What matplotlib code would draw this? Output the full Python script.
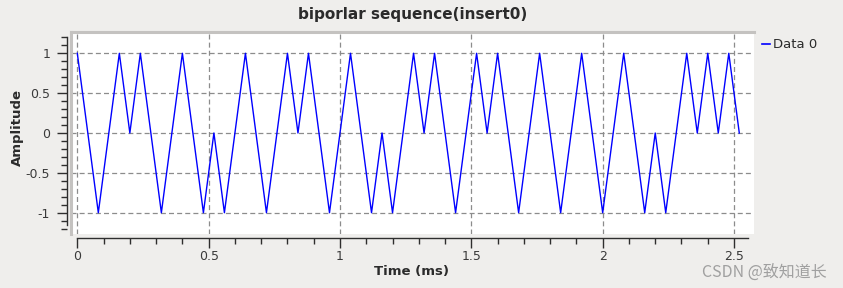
#!/usr/bin/env python
import numpy as np
import matplotlib
matplotlib.use('Agg')
import matplotlib.pyplot as plt
from matplotlib.ticker import MultipleLocator
from matplotlib.lines import Line2D

plt.rcParams['font.family'] = ['DejaVu Sans', 'Noto Sans CJK SC']

# bipolar symbols with a zero inserted after each one, 25 kHz sample rate
amplitude = [1, 0, -1, 0, 1, 0, 1, 0, -1, 0, 1, 0, -1, 0, -1, 0,
             1, 0, -1, 0, 1, 0, 1, 0, -1, 0, 1, 0, -1, 0, -1, 0,
             1, 0, 1, 0, -1, 0, 1, 0, 1, 0, -1, 0, 1, 0, -1, 0,
             1, 0, -1, 0, 1, 0, -1, 0, -1, 0, 1, 0, 1, 0, 1, 0]
sample_period_ms = 0.04
time_ms = np.arange(len(amplitude)) * sample_period_ms

x_ticks = [0, 0.5, 1, 1.5, 2, 2.5]
x_ticklabels = ['0', '0.5', '1', '1.5', '2', '2.5']
y_ticks = [-1, -0.5, 0, 0.5, 1]
y_ticklabels = ['-1', '-0.5', '0', '0.5', '1']

title = 'biporlar sequence(insert0)'
series_name = 'Data 0'

W, H = 843, 288
bg = '#efeeec'
text_col = '#3a3a3a'
label_col = '#2b2b2b'

fig = plt.figure(figsize=(W / 100, H / 100), dpi=100, facecolor=bg)
x0, y0, x1, y1 = 71, 32, 754, 234
ax = fig.add_axes([x0 / W, 1 - y1 / H, (x1 - x0) / W, (y1 - y0) / H])
ax.set_facecolor('white')

ax.plot(time_ms, amplitude, color='#0000ff', lw=1.0, label=series_name)

ax.set_xlim(-0.024, 2.576)
ax.set_ylim(-1.267, 1.267)

ax.xaxis.set_minor_locator(MultipleLocator(0.1))
ax.yaxis.set_minor_locator(MultipleLocator(0.1))
ax.set_xticks(x_ticks)
ax.set_xticklabels(x_ticklabels)
ax.set_yticks(y_ticks)
ax.set_yticklabels(y_ticklabels)

ax.grid(True, which='major', color='#8c8c8c', ls=(0, (4, 2.5)), lw=0.9)

for s in ('top', 'right'):
    ax.spines[s].set_visible(False)
ax.spines['left'].set_position(('outward', 3))
ax.spines['bottom'].set_position(('outward', 3))
ax.spines['left'].set_bounds(-1.16, 1.21)
ax.spines['bottom'].set_bounds(0, 2.555)
for s in ('left', 'bottom'):
    ax.spines[s].set_color('#2e2e2e')
    ax.spines[s].set_linewidth(1.0)

ax.tick_params(axis='both', which='major', length=7, width=1, color='#2e2e2e',
               labelsize=9, labelcolor=text_col)
ax.tick_params(axis='both', which='minor', length=4, width=1, color='#2e2e2e')
ax.tick_params(axis='y', which='major', pad=5)
ax.tick_params(axis='x', which='major', pad=1.5)

# sunken canvas frame on top and left
for xs, ys in (([0, 1], [1, 1]), ([0, 0], [0, 1])):
    ax.add_line(Line2D(xs, ys, transform=ax.transAxes, color='#c4c2c0',
                       lw=2.2, clip_on=False))

fig.text(0.5 * (x0 + x1) / W, 1 - 15 / H, title, ha='center', va='center',
         fontsize=11, fontweight='bold', color=label_col)
fig.text(412 / W, 1 - 271 / H, 'Time (ms)', ha='center', va='center',
         fontsize=9.5, fontweight='bold', color=label_col)
fig.text(17 / W, 1 - 128 / H, 'Amplitude', rotation=90, ha='center',
         va='center', fontsize=9.5, fontweight='bold', color=label_col)

# legend outside on the right
fig.add_artist(Line2D([762 / W, 770 / W], [1 - 44 / H, 1 - 44 / H],
                      color='#0000ff', lw=1.2))
fig.text(773 / W, 1 - 44 / H, series_name, ha='left', va='center',
         fontsize=9.5, color=label_col)

fig.text(827 / W, 1 - 272 / H, 'CSDN @致知道长', ha='right', va='center',
         fontsize=11.5, color='#a0a0a0',
         family=['Noto Sans CJK SC', 'DejaVu Sans'])

fig.savefig('out.png', dpi=100, facecolor=bg)
